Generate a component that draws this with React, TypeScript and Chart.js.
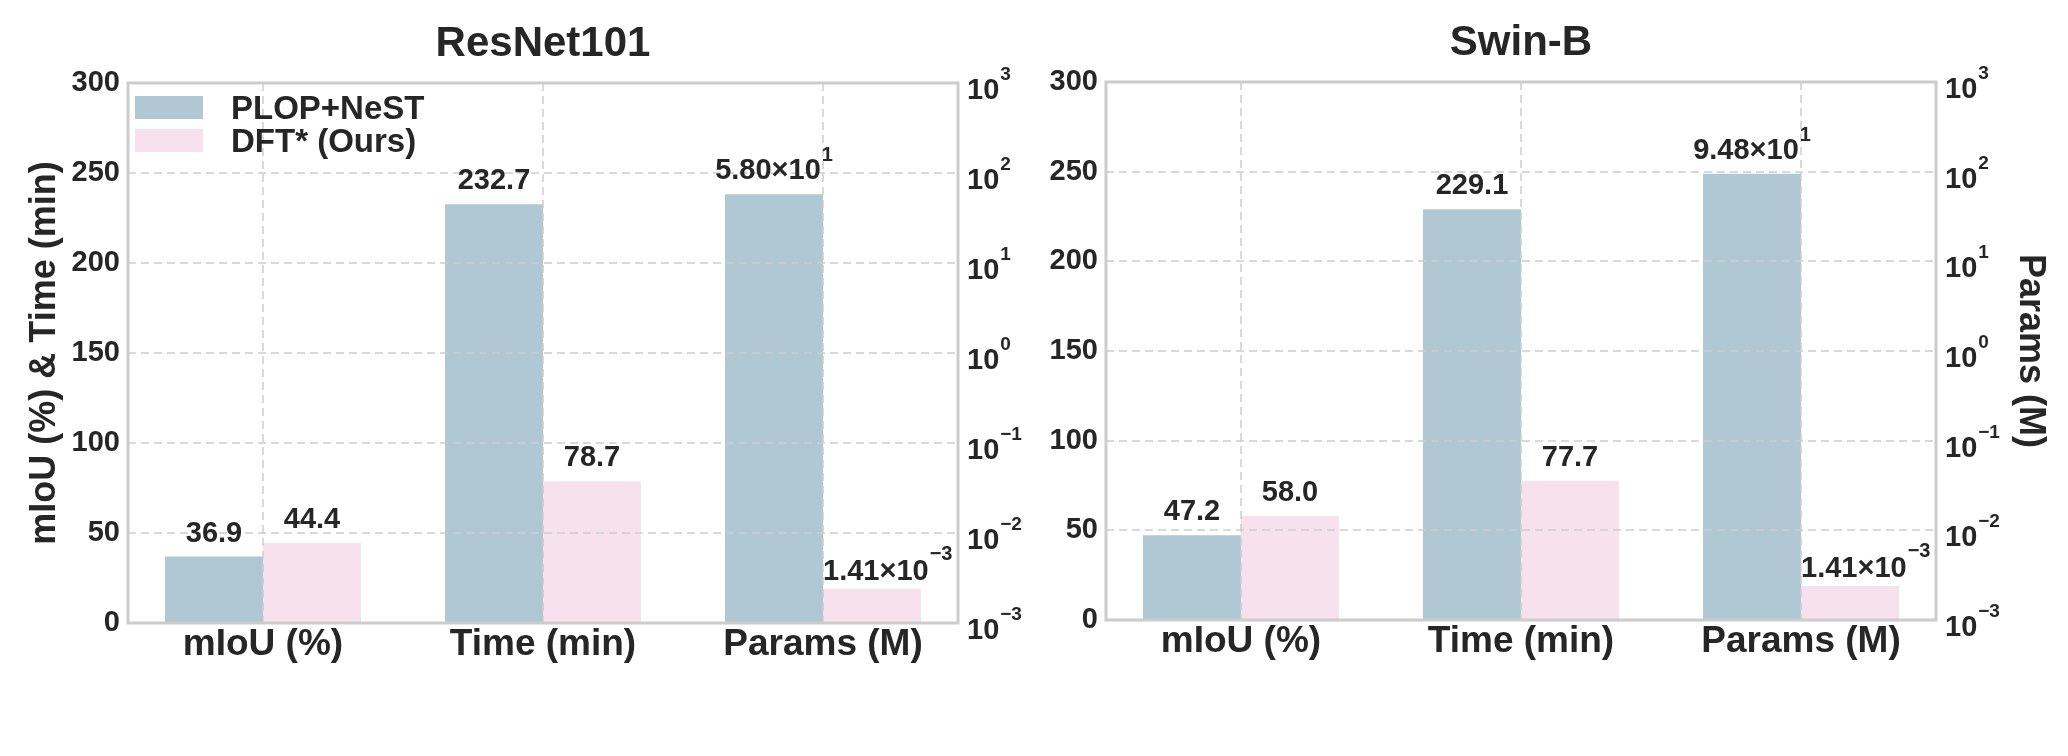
import React, { useEffect, useRef } from "react";
import Chart from "chart.js/auto";

// ---------------- data ----------------
const categories = ["mIoU (%)", "Time (min)", "Params (M)"];
const seriesNames = ["PLOP+NeST", "DFT* (Ours)"];
const panelTitles = ["ResNet101", "Swin-B"];

// mIoU and Time, read on the left (linear) axis
const resnetPlopLinear = [36.9, 232.7];
const resnetDftLinear = [44.4, 78.7];
const swinPlopLinear = [47.2, 229.1];
const swinDftLinear = [58.0, 77.7];

// Params, read on the right (log) axis as drawn
const resnetParams = [58.0, 0.0024];
const swinParams = [94.8, 0.0024];
const resnetParamsText = ["5.80×10^1", "1.41×10^-3"];
const swinParamsText = ["9.48×10^1", "1.41×10^-3"];

const leftTicks = [0, 50, 100, 150, 200, 250, 300];
const logTicks = [1e-3, 1e-2, 1e-1, 1, 10, 100, 1000];

const leftAxisTitle = "mIoU (%) & Time (min)";
const rightAxisTitle = "Params (M)";

// ---------------- style ----------------
const W = 1034;
const H = 756;
const FAMILY = '"Liberation Sans", Arial, Helvetica, sans-serif';
const TEXT = "#262626";
const PLOP_COLOR = "#AFC8D3";
const DFT_COLOR = "#F6E1EC";
const GRID = "rgba(204,204,204,0.75)";
const SPINE = "#CCCCCC";
const X_MIN = -0.482;
const X_MAX = 2.482;

const f = (size: number) => `bold ${size}px ${FAMILY}`;

function drawSci(
  ctx: CanvasRenderingContext2D,
  text: string,
  x: number,
  y: number,
  align: "left" | "center",
  mainSize: number,
  supSize: number,
  rise: number
) {
  const [base, expRaw] = text.split("^");
  const exp = expRaw !== undefined ? expRaw.replace("-", "\u2212") : "";
  ctx.font = f(mainSize);
  const wm = ctx.measureText(base).width;
  ctx.font = f(supSize);
  const ws = exp ? ctx.measureText(exp).width : 0;
  const total = wm + (exp ? 1 + ws : 0);
  const left = align === "center" ? x - total / 2 : x;
  ctx.textAlign = "left";
  ctx.textBaseline = "alphabetic";
  ctx.fillStyle = TEXT;
  ctx.font = f(mainSize);
  ctx.fillText(base, left, y);
  if (exp) {
    ctx.font = f(supSize);
    ctx.fillText(exp, left + wm + 1, y - rise);
  }
}

type Panel = {
  title: string;
  plopLinear: number[];
  dftLinear: number[];
  params: number[];
  paramsText: string[];
  area: { left: number; right: number; top: number; bottom: number };
  legend: boolean;
  leftTitle: boolean;
  rightTitle: boolean;
};

const panels: Panel[] = [
  {
    title: panelTitles[0],
    plopLinear: resnetPlopLinear,
    dftLinear: resnetDftLinear,
    params: resnetParams,
    paramsText: resnetParamsText,
    area: { left: 128, right: 958, top: 83, bottom: 623 },
    legend: true,
    leftTitle: true,
    rightTitle: false,
  },
  {
    title: panelTitles[1],
    plopLinear: swinPlopLinear,
    dftLinear: swinDftLinear,
    params: swinParams,
    paramsText: swinParamsText,
    area: { left: 72, right: 902, top: 82, bottom: 620 },
    legend: false,
    leftTitle: false,
    rightTitle: true,
  },
];

function buildConfig(p: Panel): any {
  const paramsIndex = categories.length - 1;
  const xy = (vals: number[]) => vals.map((v, i) => ({ x: i, y: v }));
  const common = {
    categoryPercentage: 0.7,
    barPercentage: 1.0,
    skipNull: true,
    borderWidth: 0,
  };
  const datasets = [
    { ...common, label: seriesNames[0], data: xy(p.plopLinear), yAxisID: "y", backgroundColor: PLOP_COLOR },
    { ...common, label: seriesNames[1], data: xy(p.dftLinear), yAxisID: "y", backgroundColor: DFT_COLOR },
    { ...common, label: seriesNames[0], data: [{ x: paramsIndex, y: p.params[0] }], yAxisID: "y2", backgroundColor: PLOP_COLOR },
    { ...common, label: seriesNames[1], data: [{ x: paramsIndex, y: p.params[1] }], yAxisID: "y2", backgroundColor: DFT_COLOR },
  ];

  const extras = {
    id: "extras",
    afterDraw(chart: any) {
      const ctx: CanvasRenderingContext2D = chart.ctx;
      const a = chart.chartArea;
      ctx.save();

      // spines
      ctx.strokeStyle = SPINE;
      ctx.lineWidth = 3;
      ctx.strokeRect(a.left, a.top, a.right - a.left, a.bottom - a.top);

      // value labels
      ctx.fillStyle = TEXT;
      chart.data.datasets.forEach((ds: any, di: number) => {
        const meta = chart.getDatasetMeta(di);
        meta.data.forEach((bar: any, j: number) => {
          const v = ds.data[j].y;
          if (di < 2) {
            drawSci(ctx, v.toFixed(1), bar.x, bar.y - 15, "center", 29, 20, 18);
          } else {
            const txt = p.paramsText[di - 2];
            const tiny = v < 0.01;
            if (tiny) {
              drawSci(ctx, txt, bar.x - bar.width / 2, bar.y - 9, "left", 29, 20, 20);
            } else {
              drawSci(ctx, txt, bar.x, bar.y - 15, "center", 29, 20, 18);
            }
          }
        });
      });

      // log tick labels on right axis
      const y2 = chart.scales.y2;
      logTicks.forEach((t) => {
        const py = y2.getPixelForValue(t);
        const e = Math.round(Math.log10(t));
        drawSci(ctx, "10^" + e, a.right + 9, py + 16, "left", 29, 19, 19);
      });

      // title
      ctx.fillStyle = TEXT;
      ctx.font = f(42);
      ctx.textAlign = "center";
      ctx.textBaseline = "alphabetic";
      ctx.fillText(p.title, (a.left + a.right) / 2, a.top - 27);

      // axis titles
      const cy = (a.top + a.bottom) / 2;
      ctx.font = f(36);
      ctx.textAlign = "center";
      ctx.textBaseline = "middle";
      if (p.leftTitle) {
        ctx.save();
        ctx.translate(45, cy);
        ctx.rotate(-Math.PI / 2);
        ctx.fillText(leftAxisTitle, 0, 0);
        ctx.restore();
      }
      if (p.rightTitle) {
        ctx.save();
        ctx.translate(996, cy);
        ctx.rotate(Math.PI / 2);
        ctx.fillText(rightAxisTitle, 0, 0);
        ctx.restore();
      }

      // legend
      if (p.legend) {
        const colors = [PLOP_COLOR, DFT_COLOR];
        seriesNames.forEach((name, i) => {
          const top = 96 + i * 33;
          ctx.fillStyle = colors[i];
          ctx.fillRect(a.left + 7, top, 68, 23);
          ctx.fillStyle = TEXT;
          ctx.font = f(33);
          ctx.textAlign = "left";
          ctx.textBaseline = "alphabetic";
          ctx.fillText(name, a.left + 103, top + 23);
        });
      }
      ctx.restore();
    },
  };

  return {
    type: "bar",
    data: { datasets },
    plugins: [extras],
    options: {
      animation: false,
      responsive: false,
      maintainAspectRatio: false,
      layout: { padding: { top: p.area.top, left: 0, right: 0, bottom: 0 } },
      plugins: { legend: { display: false }, tooltip: { enabled: false } },
      scales: {
        x: {
          type: "linear",
          min: X_MIN,
          max: X_MAX,
          offset: false,
          afterBuildTicks: (s: any) => {
            s.ticks = categories.map((_, i) => ({ value: i }));
          },
          afterFit: (s: any) => {
            s.height = H - p.area.bottom;
          },
          grid: { display: true, offset: false, drawTicks: false, color: GRID, lineWidth: 2, z: 1 },
          border: { display: false, dash: [8, 5] },
          ticks: {
            callback: (v: number) => categories[v] ?? "",
            font: { family: FAMILY, size: 37, weight: "bold", lineHeight: 1 },
            color: TEXT,
            padding: 3,
            maxRotation: 0,
            autoSkip: false,
          },
        },
        y: {
          type: "linear",
          position: "left",
          min: 0,
          max: 300,
          afterBuildTicks: (s: any) => {
            s.ticks = leftTicks.map((v) => ({ value: v }));
          },
          afterFit: (s: any) => {
            s.width = p.area.left;
          },
          grid: { display: false, drawTicks: false },
          border: { display: false },
          ticks: {
            font: { family: FAMILY, size: 29, weight: "bold" },
            color: TEXT,
            padding: 8,
          },
        },
        y2: {
          type: "logarithmic",
          position: "right",
          min: 1e-3,
          max: 1e3,
          afterBuildTicks: (s: any) => {
            s.ticks = logTicks.map((v) => ({ value: v, major: true }));
          },
          afterFit: (s: any) => {
            s.width = W - p.area.right;
          },
          grid: { display: true, drawTicks: false, color: GRID, lineWidth: 2, z: 1 },
          border: { display: false, dash: [8, 5] },
          ticks: { display: false },
        },
      },
    },
  };
}

function PanelChart({ panel, offsetX }: { panel: Panel; offsetX: number }) {
  const ref = useRef<HTMLCanvasElement | null>(null);
  useEffect(() => {
    if (!ref.current) return;
    const chart = new Chart(ref.current, buildConfig(panel));
    return () => chart.destroy();
  }, [panel]);
  return (
    <canvas
      ref={ref}
      width={W}
      height={H}
      style={{ position: "absolute", left: offsetX, top: 0, width: W, height: H, display: "block" }}
    />
  );
}

export default function App() {
  return (
    <div style={{ position: "absolute", left: 0, top: 0, width: 2 * W, height: H, background: "#ffffff", overflow: "hidden" }}>
      <PanelChart panel={panels[0]} offsetX={0} />
      <PanelChart panel={panels[1]} offsetX={W} />
    </div>
  );
}
